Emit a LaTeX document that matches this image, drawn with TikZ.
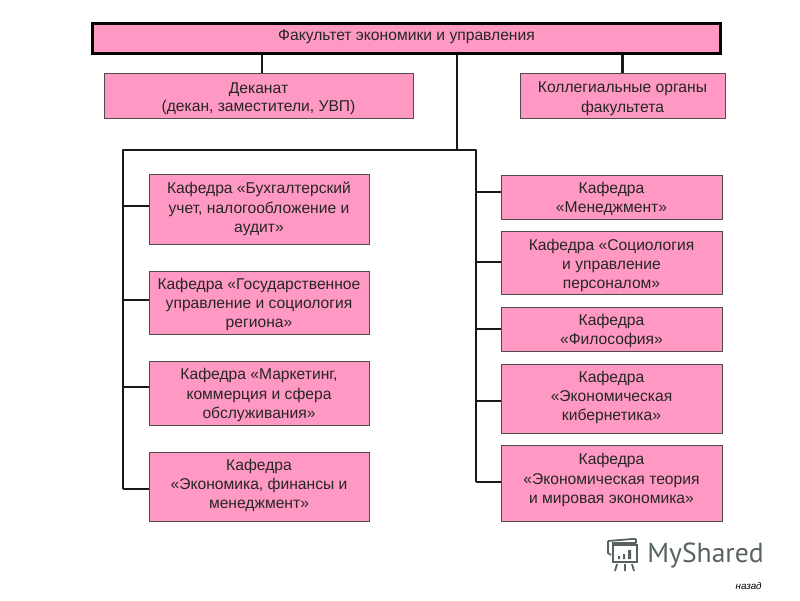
\documentclass[tikz,border=0pt]{standalone}
\usepackage{fontspec}
\setmainfont{Liberation Sans}
\newfontfamily\logofont{PT Sans}
\definecolor{boxpink}{RGB}{255,153,196}
\definecolor{logogray}{RGB}{88,98,96}
\newcommand{\pushdown}[1]{\rule{0pt}{#1pt}}
\newcommand{\pushup}[1]{\rule[-#1pt]{0pt}{0pt}}
\tikzset{
	box/.style={draw=black!70, line width=0.5pt, fill=boxpink, inner sep=0pt, align=center,
		font=\fontsize{8.9}{11}\selectfont, text=black!85},
	leftbox/.style={box, minimum width=4.4cm},
	rightbox/.style={box, minimum width=4.42cm},
	link/.style={line width=1.6pt, black!90},
	thinlink/.style={line width=1.2pt, black!90},
	logoline/.style={draw=logogray, line width=1pt}
}
\begin{document}
\begin{tikzpicture}[x=0.02cm, y=-0.02cm]

		\useasboundingbox (0,0) rectangle (800,600);
		\fill[white] (0,0) rectangle (800,600);

		\node[box, draw=black, line width=1.7pt, minimum width=12.56cm, minimum height=0.6cm] (faculty) at (406.5,38.5) {Факультет экономики и управления\pushup{4.2}};

		\node[box, minimum width=6.18cm, minimum height=0.9cm, font=\fontsize{8.9}{10.2}\selectfont] (dean) at (258.5,95.5) {\pushdown{9.8}Деканат\\(декан, заместители, УВП)};
		\node[box, minimum width=4.1cm, minimum height=0.9cm] (council) at (622.5,95.5) {\pushdown{9.8}Коллегиальные органы\\факультета};

		% кафедры слева
		\node[leftbox, minimum height=1.4cm] (L1) at (259,209) {Кафедра «Бухгалтерский\\учет, налогообложение и\\аудит»};
		\node[leftbox, minimum height=1.26cm] (L2) at (259,302.5) {\pushdown{8.7}Кафедра «Государственное\\управление и социология\\региона»};
		\node[leftbox, minimum height=1.28cm] (L3) at (259,393) {\pushdown{8.7}Кафедра «Маркетинг,\\коммерция и сфера\\обслуживания»};
		\node[leftbox, minimum height=1.38cm] (L4) at (259,486.5) {Кафедра\\«Экономика, финансы и\\менеджмент»\pushup{3}};

		% кафедры справа
		\node[rightbox, minimum height=0.88cm] (R1) at (611.5,197) {\pushdown{8.7}Кафедра\\«Менеджмент»};
		\node[rightbox, minimum height=1.26cm] (R2) at (611.5,262.5) {\pushdown{9.8}Кафедра «Социология\\и управление\\персоналом»};
		\node[rightbox, minimum height=0.88cm] (R3) at (611.5,329) {\pushdown{8.7}Кафедра\\«Философия»};
		\node[rightbox, minimum height=1.38cm] (R4) at (611.5,398.5) {Кафедра\\«Экономическая\\кибернетика»\pushup{3}};
		\node[rightbox, minimum height=1.52cm] (R5) at (611.5,483) {Кафедра\\«Экономическая теория\\и мировая экономика»\pushup{5.3}};

		\coordinate (bus) at (457,150);
		\coordinate (busL) at (123,150);
		\coordinate (busR) at (476,150);
		\coordinate (endL) at (123,489);
		\coordinate (endR) at (476,482);
		\coordinate (deanlink) at (262,50);

		\draw[link] (faculty.south -| deanlink) -- (dean.north -| deanlink);
		\draw[link] (faculty.south -| council.north) -- (council.north);
		\draw[link] (faculty.south -| bus) -- (bus);
		\draw[thinlink, line cap=round] (busL) -- (busR);
		\draw[thinlink] (busL) -- (endL);
		\draw[thinlink] (busR) -- (endR);

		\foreach \n/\y in {1/206,2/300,3/387,4/489} {
				\coordinate (SL\n) at (123,\y);
				\draw[thinlink] (SL\n) -- (SL\n -| L\n.west);
			}

		\foreach \n/\y in {1/192,2/262,3/329,4/401,5/482} {
				\coordinate (SR\n) at (476,\y);
				\draw[thinlink] (SR\n) -- (SR\n -| R\n.west);
			}

		% логотип
		\draw[logoline, rounded corners=0.5pt] (612,543) -- (636,543) (608,541) -- (632,539) -- (636,539) -- (636,543);
		\draw[logoline] (608,541) -- (608,553) -- (611,555);
		\draw[logoline] (613,545) rectangle (637,562);
		\draw[logoline] (617,564) -- (615,571) (625,564) -- (625,571) (632,564) -- (634,571);
		\fill[logogray] (618,556) rectangle (620,559) (623,554) rectangle (625,559) (628,550) rectangle (631,559);
		\node[font=\logofont\fontsize{15.7}{18}\selectfont, text=logogray, anchor=west, inner sep=0pt] (logo) at (647,555) {MyShared};
		\node[font=\fontsize{5.6}{6}\selectfont\itshape, anchor=east, inner sep=0pt] (back) at (762,586) {назад};
	\end{tikzpicture}
\end{document}
